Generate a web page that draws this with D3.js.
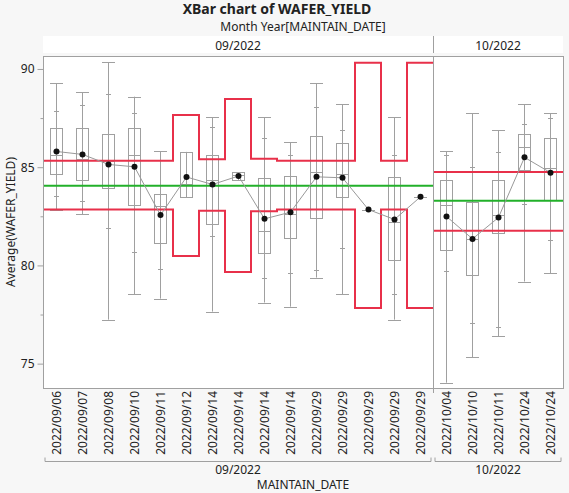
<!DOCTYPE html>
<html>
<head>
<meta charset="utf-8">
<script src="https://cdn.jsdelivr.net/npm/d3@7"></script>
<style>
  body { margin: 0; background: #f7f7f7; }
  text { font-family: "Noto Sans", "Liberation Sans", sans-serif; fill: #222; }
</style>
</head>
<body>
<div class="chart-container"></div>
<script>
// subgroup labels (dates) and the month each one belongs to
dates = ["2022/09/06","2022/09/07","2022/09/08","2022/09/10","2022/09/11","2022/09/12","2022/09/14","2022/09/14",
  "2022/09/14","2022/09/14","2022/09/29","2022/09/29","2022/09/29","2022/09/29","2022/09/29",
  "2022/10/04","2022/10/10","2022/10/11","2022/10/24","2022/10/24"]
months = ["09/2022","09/2022","09/2022","09/2022","09/2022","09/2022","09/2022","09/2022","09/2022","09/2022",
  "09/2022","09/2022","09/2022","09/2022","09/2022","10/2022","10/2022","10/2022","10/2022","10/2022"]

// subgroup averages
means = [85.8, 85.65, 85.14, 85.02, 82.56, 84.5, 84.12, 84.55, 82.37, 82.71, 84.51, 84.46, 82.84, 82.34, 83.49,
  82.49, 81.35, 82.44, 85.5, 84.72]

// box plot of each subgroup
maxs = [89.27, 88.81, 90.34, 88.59, 85.8, 85.78, 87.54, 84.73, 87.54, 86.26, 89.27, 88.2, 82.84, 87.54, 83.49,
  85.8, 87.74, 86.88, 88.2, 87.74]
p90 = [87.84, 88.15, 88.71, 87.74, null, null, 87.03, null, 86.47, 85.6, 88.05, 86.88, null, 85.6, null,
  85.6, 84.99, 85.75, 87.18, 87.49]
q3 = [86.98, 86.98, 86.67, 86.98, 83.66, 85.78, 85.6, 84.73, 84.43, 84.53, 86.57, 86.21, 82.84, 84.48, 83.49,
  84.33, 83.24, 84.33, 86.67, 86.47]
medians = [85.6, 85.43, 85.3, 85.6, 83.03, 84.15, 84.33, 84.6, 81.73, 82.61, 84.73, 84.63, 82.84, 82.19, 83.49,
  83.05, 81.32, 82.59, 86.01, 84.94]
q1 = [84.63, 84.33, 83.92, 83.05, 81.12, 83.46, 82.1, 84.33, 80.61, 81.42, 82.39, 83.46, 82.84, 80.3, 83.49,
  80.76, 79.49, 81.63, 84.84, 83.31]
p10 = [83.53, 83.29, 81.88, 80.69, 79.84, null, 81.52, null, 79.38, 79.59, 79.79, 80.91, null, 78.52, null,
  79.74, 77.09, 76.89, 83.15, 81.27]
mins = [82.81, 82.61, 77.24, 78.52, 78.31, 83.46, 77.65, 84.33, 78.11, 77.9, 79.38, 78.52, 82.84, 77.24, 83.49,
  74.03, 75.32, 76.39, 79.18, 79.59]

// control limits per subgroup
ucl = [85.33, 85.33, 85.33, 85.33, 85.33, 87.66, 85.4, 88.47, 85.43, 85.33, 85.33, 85.33, 90.32, 85.33, 90.32,
  84.75, 84.75, 84.75, 84.75, 84.75]
lcl = [82.85, 82.85, 82.85, 82.85, 82.85, 80.48, 82.78, 79.67, 82.76, 82.85, 82.85, 82.85, 77.83, 82.85, 77.83,
  81.76, 81.76, 81.76, 81.76, 81.76]
cl = [84.05, 84.05, 84.05, 84.05, 84.05, 84.05, 84.05, 84.05, 84.05, 84.05, 84.05, 84.05, 84.05, 84.05, 84.05,
  83.29, 83.29, 83.29, 83.29, 83.29]

yTicks = [75, 80, 85, 90]
yMinor = [77.5, 82.5, 87.5]
panels = ["09/2022", "10/2022"]

// plot box (note: "top" is reserved on window, so use pL/pR/pT/pB)
var W = 569, H = 493
var pL = 43, pR = 563, pT = 56, pB = 388
var grayLine = "#a0a0a0", red = "#e8304a", green = "#22b02a"

svg = d3.select(".chart-container").append("svg").attr("width", W).attr("height", H)
svg.append("rect").attr("width", W).attr("height", H).attr("fill", "#f7f7f7")

// scales
x = d3.scaleBand().domain(d3.range(dates.length)).range([pL, pR])
y = d3.scaleLinear().domain([73.76, 90.66]).range([pB, pT])
cx = i => x(i) + x.bandwidth() / 2

// panel extents from the month of each subgroup
panelInfo = panels.map(p => {
  var idx = d3.range(dates.length).filter(i => months[i] == p)
  return {name: p, idx: idx, x0: x(idx[0]), x1: x(idx[idx.length - 1]) + x.bandwidth()}
})

// titles
svg.append("text").attr("x", 277).attr("y", 14).attr("text-anchor", "middle")
  .style("font-size", "14px").style("font-weight", "bold").text("XBar chart of WAFER_YIELD")
svg.append("text").attr("x", (pL + pR) / 2).attr("y", 31).attr("text-anchor", "middle")
  .style("font-size", "12px").text("Month Year[MAINTAIN_DATE]")

// header band with month names
svg.append("rect").attr("x", pL).attr("y", 36).attr("width", pR - pL).attr("height", 17).attr("fill", "#fff")
svg.selectAll(".ptitle").data(panelInfo).enter().append("text")
  .attr("x", d => (d.x0 + d.x1) / 2).attr("y", 50).attr("text-anchor", "middle")
  .style("font-size", "12px").text(d => d.name)

// plot background
svg.append("rect").attr("x", pL).attr("y", pT).attr("width", pR - pL).attr("height", pB - pT).attr("fill", "#fff")

// y axis ticks
yAxis = d3.axisLeft(y).tickValues(yTicks).tickSize(6).tickPadding(3)
yAxisG = svg.append("g").attr("transform", "translate(" + (pL + 0.5) + ",0)").call(yAxis)
yAxisG.select(".domain").remove()
yAxisG.selectAll("line").attr("stroke", grayLine)
yAxisG.selectAll("text").style("font-size", "12px").attr("font-family", null).attr("fill", "#222")
svg.append("g").attr("transform", "translate(" + (pL + 0.5) + ",0)")
  .call(d3.axisLeft(y).tickValues(yMinor).tickSize(3).tickFormat(""))
  .call(g => g.select(".domain").remove())
  .selectAll("line").attr("stroke", grayLine)

svg.append("text").attr("transform", "translate(15," + (pT + pB) / 2 + ") rotate(-90)")
  .attr("text-anchor", "middle").style("font-size", "12px").text("Average(WAFER_YIELD)")

plot = svg.append("g")

// box plots
boxW = 12, tickW = 4
idxs = d3.range(dates.length)
plot.selectAll(".whisker").data(idxs).enter().append("line")
  .attr("x1", i => cx(i) + 0.5).attr("x2", i => cx(i) + 0.5)
  .attr("y1", i => y(maxs[i])).attr("y2", i => y(mins[i]))
  .attr("stroke", grayLine)
plot.selectAll(".capTop").data(idxs).enter().append("line")
  .attr("x1", i => cx(i) - boxW / 2).attr("x2", i => cx(i) + boxW / 2 + 1)
  .attr("y1", i => Math.round(y(maxs[i])) + 0.5).attr("y2", i => Math.round(y(maxs[i])) + 0.5)
  .attr("stroke", grayLine)
plot.selectAll(".capBot").data(idxs).enter().append("line")
  .attr("x1", i => cx(i) - boxW / 2).attr("x2", i => cx(i) + boxW / 2 + 1)
  .attr("y1", i => Math.round(y(mins[i])) + 0.5).attr("y2", i => Math.round(y(mins[i])) + 0.5)
  .attr("stroke", grayLine)
plot.selectAll(".pct").data(idxs.filter(i => p90[i] != null).map(i => [i, p90[i]])
    .concat(idxs.filter(i => p10[i] != null).map(i => [i, p10[i]])))
  .enter().append("line")
  .attr("x1", d => cx(d[0]) - tickW / 2).attr("x2", d => cx(d[0]) + tickW / 2 + 1)
  .attr("y1", d => Math.round(y(d[1])) + 0.5).attr("y2", d => Math.round(y(d[1])) + 0.5)
  .attr("stroke", grayLine)
boxIdx = idxs.filter(i => q3[i] > q1[i])
plot.selectAll(".box").data(boxIdx).enter().append("rect")
  .attr("x", i => cx(i) - boxW / 2 + 0.5).attr("width", boxW)
  .attr("y", i => Math.round(y(q3[i])) + 0.5).attr("height", i => Math.round(y(q1[i])) - Math.round(y(q3[i])))
  .attr("fill", "none").attr("stroke", grayLine)
plot.selectAll(".median").data(boxIdx).enter().append("line")
  .attr("x1", i => cx(i) - boxW / 2).attr("x2", i => cx(i) + boxW / 2 + 1)
  .attr("y1", i => Math.round(y(medians[i])) + 0.5).attr("y2", i => Math.round(y(medians[i])) + 0.5)
  .attr("stroke", grayLine)

// control limits: green centre line and red step lines per panel
stepPts = (arr, p) => p.idx.flatMap(i => [[x(i), y(arr[i])], [x(i) + x.bandwidth(), y(arr[i])]])
step = d3.line()
panelInfo.forEach(p => {
  plot.append("path").attr("d", step(stepPts(cl, p))).attr("fill", "none").attr("stroke", green).attr("stroke-width", 2)
  plot.append("path").attr("d", step(stepPts(ucl, p))).attr("fill", "none").attr("stroke", red).attr("stroke-width", 2)
  plot.append("path").attr("d", step(stepPts(lcl, p))).attr("fill", "none").attr("stroke", red).attr("stroke-width", 2)
})

// mean line and points
meanLine = d3.line().x(i => cx(i) + 0.5).y(i => y(means[i]))
panelInfo.forEach(p => {
  plot.append("path").attr("d", meanLine(p.idx)).attr("fill", "none").attr("stroke", "#999").attr("stroke-width", 1)
})
plot.selectAll(".dot").data(idxs).enter().append("circle")
  .attr("cx", i => cx(i) + 0.5).attr("cy", i => y(means[i])).attr("r", 3).attr("fill", "#111")

// frame and panel divider
svg.append("rect").attr("x", pL + 0.5).attr("y", pT + 0.5).attr("width", pR - pL).attr("height", pB - pT)
  .attr("fill", "none").attr("stroke", grayLine)
divX = Math.round(panelInfo[1].x0) + 0.5
svg.append("line").attr("x1", divX).attr("x2", divX).attr("y1", 36).attr("y2", 53).attr("stroke", grayLine)
svg.append("line").attr("x1", divX).attr("x2", divX).attr("y1", pT).attr("y2", pB + 5).attr("stroke", grayLine)

// x labels, rotated
svg.selectAll(".xlab").data(idxs).enter().append("text")
  .attr("transform", i => "translate(" + (cx(i) + 4.5) + "," + (pB + 3) + ") rotate(-90)")
  .attr("text-anchor", "end").style("font-size", "12px").text(i => dates[i])

// month brackets under the labels
brY = 461.5
panelInfo.forEach(p => {
  var a = p.x0 + 2, b = p.x1 - 2
  svg.append("path").attr("d", "M" + a + "," + (brY - 4) + "V" + brY + "H" + b + "V" + (brY - 4))
    .attr("fill", "none").attr("stroke", grayLine)
  svg.append("text").attr("x", (p.x0 + p.x1) / 2).attr("y", 474).attr("text-anchor", "middle")
    .style("font-size", "12px").text(p.name)
})
svg.append("text").attr("x", (pL + pR) / 2).attr("y", 489).attr("text-anchor", "middle")
  .style("font-size", "12px").text("MAINTAIN_DATE")
</script>
</body>
</html>
